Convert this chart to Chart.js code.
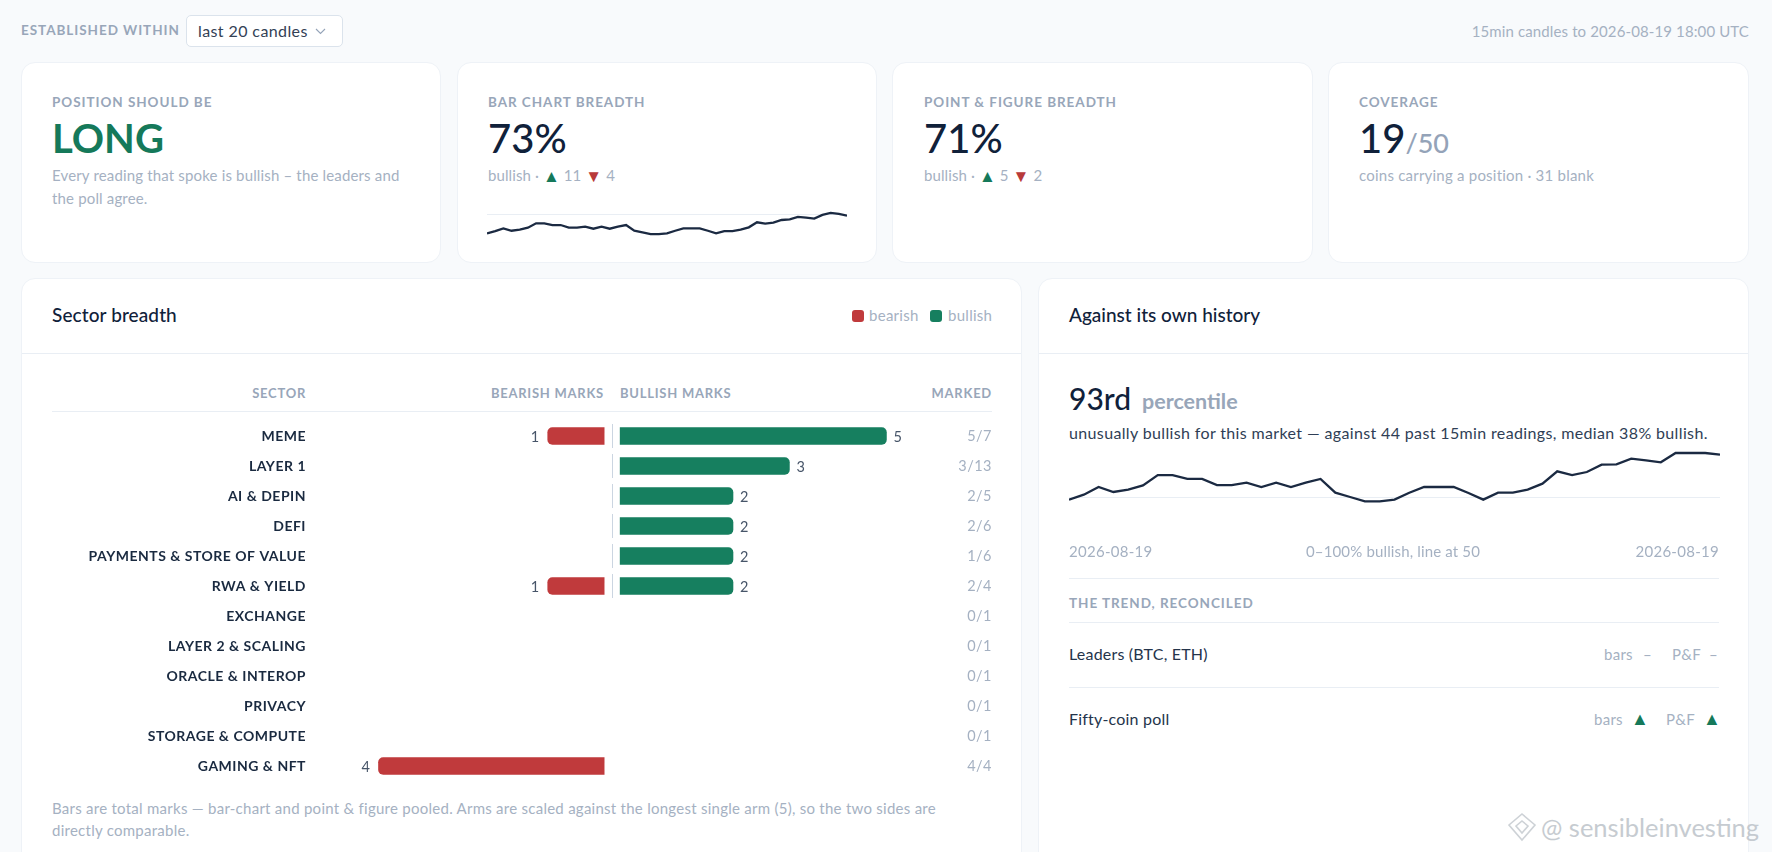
<!DOCTYPE html>
<html lang="en">
<head>
<meta charset="utf-8">
<title>Breadth</title>
<script src="https://cdn.jsdelivr.net/npm/chart.js@4/dist/chart.umd.min.js"></script>
<style>
  html, body { margin: 0; height: 100%; background: #f8fafc; overflow: hidden; }
  body { position: relative; width: 1772px; height: 852px; font-family: Lato, sans-serif; color: #10213a; }
  .card { position: absolute; background: #fff; border: 1px solid #eef2f7; border-radius: 14px; box-sizing: border-box; }
  .t { position: absolute; white-space: nowrap; transform: translateY(-50%); line-height: 1.2; }
  .r { transform: translate(-100%, -50%); }
  .c { transform: translate(-50%, -50%); }
  .label { font-size: 13.5px; font-weight: 700; letter-spacing: 0.95px; color: #98a6b9; }
  .th { font-size: 13px; font-weight: 700; letter-spacing: 0.75px; color: #98a6b9; }
  .big { font-size: 40px; font-weight: 500; }
  .sub { font-size: 15px; color: #a5b1c2; letter-spacing: 0.28px; }
  .title { font-size: 19px; font-weight: 500; letter-spacing: 0.1px; color: #10213a; }
  .row { font-size: 16px; color: #24344b; letter-spacing: 0.2px; }
  .up { color: #15795a; }
  .down { color: #b83a3a; }
  .tri { font-size: 17px; line-height: 1; vertical-align: -1px; }
  .rule { position: absolute; height: 1px; background: #e9eef4; }
  .swatch { position: absolute; width: 12px; height: 12px; border-radius: 3px; }
  canvas { position: absolute; display: block; }
</style>
</head>
<body>
  <div class="t label" style="left:21px;top:30px">ESTABLISHED WITHIN</div>
  <div style="position:absolute;left:186px;top:15px;width:157px;height:32px;background:#fff;border:1px solid #dbe3ec;border-radius:5px;box-sizing:border-box"></div>
  <div class="t" style="left:198px;top:31px;font-size:16px;color:#334155;letter-spacing:.4px">last 20 candles</div>
  <svg style="position:absolute;left:315px;top:28px" width="11" height="7"><path d="M1 1 L5.5 5.5 L10 1" fill="none" stroke="#94a3b8" stroke-width="1.1"/></svg>
  <div class="t r sub" style="left:1749px;top:31px;letter-spacing:.12px">15min candles to 2026-08-19 18:00 UTC</div>

  <div class="card" style="left:21px;top:62px;width:420px;height:201px"></div>
  <div class="card" style="left:457px;top:62px;width:420px;height:201px"></div>
  <div class="card" style="left:892px;top:62px;width:421px;height:201px"></div>
  <div class="card" style="left:1328px;top:62px;width:421px;height:201px"></div>

  <div class="t label" style="left:52px;top:102px">POSITION SHOULD BE</div>
  <div class="t big up" style="left:52px;top:138px;font-weight:700">LONG</div>
  <div class="t sub" style="left:52px;top:175px;letter-spacing:.16px">Every reading that spoke is bullish – the leaders and</div>
  <div class="t sub" style="left:52px;top:198px;letter-spacing:.16px">the poll agree.</div>

  <div class="t label" style="left:488px;top:102px">BAR CHART BREADTH</div>
  <div class="t big" style="left:488px;top:138px">73%</div>
  <div class="t sub" style="left:488px;top:175px;letter-spacing:.1px">bullish · <span class="up tri">▲</span> 11 <span class="down tri">▼</span> 4</div>

  <div class="t label" style="left:924px;top:102px">POINT &amp; FIGURE BREADTH</div>
  <div class="t big" style="left:924px;top:138px">71%</div>
  <div class="t sub" style="left:924px;top:175px;letter-spacing:.1px">bullish · <span class="up tri">▲</span> 5 <span class="down tri">▼</span> 2</div>

  <div class="t label" style="left:1359px;top:102px">COVERAGE</div>
  <div class="t big" style="left:1359px;top:138px">19<span style="font-size:27px;color:#94a3b8">/50</span></div>
  <div class="t sub" style="left:1359px;top:175px;letter-spacing:.22px">coins carrying a position · 31 blank</div>

  <canvas id="barSpark" width="360" height="43" style="left:487px;top:204px"></canvas>

  <div class="card" style="left:21px;top:278px;width:1001px;height:640px"></div>
  <div class="rule" style="left:22px;top:353px;width:999px"></div>
  <div class="t title" style="left:52px;top:315px">Sector breadth</div>
  <div class="swatch" style="left:852px;top:310px;background:#c03a3c"></div>
  <div class="t sub" style="left:869px;top:315px">bearish</div>
  <div class="swatch" style="left:930px;top:310px;background:#167f5f"></div>
  <div class="t sub" style="left:948px;top:315px">bullish</div>

  <div class="t r th" style="left:306px;top:394px">SECTOR</div>
  <div class="t r th" style="left:604px;top:394px">BEARISH MARKS</div>
  <div class="t th" style="left:620px;top:394px">BULLISH MARKS</div>
  <div class="t r th" style="left:992px;top:394px">MARKED</div>
  <div class="rule" style="left:52px;top:411px;width:940px"></div>
  <canvas id="sectorChart" width="940" height="360" style="left:52px;top:421px"></canvas>
  <div class="t sub" style="left:52px;top:808px;letter-spacing:.26px">Bars are total marks — bar-chart and point &amp; figure pooled. Arms are scaled against the longest single arm (5), so the two sides are</div>
  <div class="t sub" style="left:52px;top:830px;letter-spacing:.26px">directly comparable.</div>

  <div class="card" style="left:1038px;top:278px;width:711px;height:640px"></div>
  <div class="rule" style="left:1039px;top:353px;width:709px"></div>
  <div class="t title" style="left:1069px;top:315px;letter-spacing:0">Against its own history</div>
  <div class="t" style="left:1069px;top:398px;font-size:30px;font-weight:500">93rd</div>
  <div class="t" style="left:1142px;top:402px;font-size:21.5px;font-weight:700;color:#98a6b9">percentile</div>
  <div class="t" style="left:1069px;top:433px;font-size:16px;color:#2f3e55;letter-spacing:.36px">unusually bullish for this market — against 44 past 15min readings, median 38% bullish.</div>
  <canvas id="historySpark" width="651" height="98" style="left:1069px;top:448px"></canvas>
  <div class="t sub" style="left:1069px;top:551px">2026-08-19</div>
  <div class="t c sub" style="left:1393px;top:551px;letter-spacing:.15px">0–100% bullish, line at 50</div>
  <div class="t r sub" style="left:1719px;top:551px">2026-08-19</div>
  <div class="rule" style="left:1069px;top:578px;width:650px"></div>
  <div class="t label" style="left:1069px;top:603px">THE TREND, RECONCILED</div>
  <div class="rule" style="left:1069px;top:622px;width:650px"></div>
  <div class="t row" style="left:1069px;top:654px">Leaders (BTC, ETH)</div>
  <div class="t sub" style="left:1604px;top:654px">bars</div>
  <div class="t sub" style="left:1643px;top:654px">–</div>
  <div class="t sub" style="left:1672px;top:654px">P&amp;F</div>
  <div class="t sub" style="left:1709px;top:654px">–</div>
  <div class="rule" style="left:1069px;top:687px;width:650px"></div>
  <div class="t row" style="left:1069px;top:719px">Fifty-coin poll</div>
  <div class="t sub" style="left:1594px;top:719px">bars</div>
  <div class="t up" style="left:1631px;top:719px;font-size:18px">▲</div>
  <div class="t sub" style="left:1666px;top:719px">P&amp;F</div>
  <div class="t up" style="left:1703px;top:719px;font-size:18px">▲</div>

  <svg style="position:absolute;left:1507px;top:812px;opacity:.7" width="30" height="30"><path d="M15 2 L28 13 L15 28 L2 13 Z M15 9 L21 14 L15 21 L9 14 Z" fill="none" stroke="#b9bfc6" stroke-width="1.6"/></svg>
  <div class="t" style="left:1541px;top:827px;font-size:25.5px;color:#b9bfc6;opacity:.8">@ sensibleinvesting</div>

<script>
// sector table
const sectors = ['MEME', 'LAYER 1', 'AI & DEPIN', 'DEFI', 'PAYMENTS & STORE OF VALUE', 'RWA & YIELD',
  'EXCHANGE', 'LAYER 2 & SCALING', 'ORACLE & INTEROP', 'PRIVACY', 'STORAGE & COMPUTE', 'GAMING & NFT'];
const bearishMarks = [1, 0, 0, 0, 0, 1, 0, 0, 0, 0, 0, 4];
const bullishMarks = [5, 3, 2, 2, 2, 2, 0, 0, 0, 0, 0, 0];
const markedLabels = ['5/7', '3/13', '2/5', '2/6', '1/6', '2/4', '0/1', '0/1', '0/1', '0/1', '0/1', '4/4'];

// bullish share per 15min reading
const barBreadth = [31.6, 37.1, 43.3, 37.8, 40.2, 44.9, 55, 55, 51.1, 51.1, 44.9, 44.9, 47.2, 42.5, 47.2, 42.5, 47.2, 51.1,
  37.8, 33.9, 30, 30, 31.6, 37.8, 43.3, 43.3, 43.3, 37.8, 31.6, 37.1, 37.1, 40.2, 45.7, 57.4, 54.3, 56.6,
  62.8, 64.4, 69.9, 68.3, 66, 74.6, 79.3, 76.9, 73];
const historyBreadth = [47.3, 52.4, 60.2, 55.1, 57.5, 61.9, 72.4, 72.4, 68.4, 68.4, 62.2, 62.2, 64.6, 60.2, 64.6, 60.2, 64.6, 68.4,
  54.4, 50, 45.6, 45.6, 47.3, 54.4, 60.2, 60.2, 60.2, 54.1, 47.3, 54.4, 54.4, 57.5, 63.6, 76.2, 72.4, 75.5,
  83, 83.3, 89.1, 87.4, 85.4, 94.9, 94.9, 94.9, 93.2];
const barRefLine = 75;
const historyRefLine = 50;

const red = '#c03a3c';
const green = '#167f5f';

// arms sit either side of a gap, the bullish track runs out just short of 5 marks
const armGap = 0.142;
const armReach = 4.72;
const bearishBars = bearishMarks.map(v => v ? [-(armGap + v), -armGap] : null);
const bullishBars = bullishMarks.map(v => v ? [armGap, armGap + Math.min(v, armReach)] : null);

// center ticks and the count at the end of each arm
const armDecor = {
  id: 'armDecor',
  beforeDraw(chart) {
    chart.ctx.letterSpacing = '0.5px';
  },
  afterDatasetsDraw(chart) {
    const { ctx, scales: { x, y } } = chart;
    ctx.save();
    ctx.font = '14.5px Lato, sans-serif';
    ctx.textBaseline = 'middle';
    sectors.forEach((_, i) => {
      const rowY = y.getPixelForValue(i);
      if (bullishMarks[i]) {
        ctx.fillStyle = '#cbd5e1';
        ctx.fillRect(Math.round(x.getPixelForValue(0)), rowY - 12, 1, 24);
        ctx.fillStyle = '#475569';
        ctx.textAlign = 'left';
        ctx.fillText(bullishMarks[i], x.getPixelForValue(armGap + Math.min(bullishMarks[i], armReach)) + 7, rowY + 1);
      }
      if (bearishMarks[i]) {
        ctx.fillStyle = '#475569';
        ctx.textAlign = 'right';
        ctx.fillText(bearishMarks[i], x.getPixelForValue(-(armGap + bearishMarks[i])) - 8, rowY + 1);
      }
    });
    ctx.restore();
  }
};

// the tick labels sit well inside the rows, no need for the axis to pad for them
function noPad(scale, width) {
  scale.width = width;
  scale.paddingTop = 0;
  scale.paddingBottom = 0;
}

new Chart(document.getElementById('sectorChart'), {
  type: 'bar',
  data: {
    labels: sectors,
    datasets: [
      { label: 'bearish', data: bearishBars, backgroundColor: red, borderRadius: { topLeft: 5, bottomLeft: 5 } },
      { label: 'bullish', data: bullishBars, backgroundColor: green, borderRadius: { topRight: 5, bottomRight: 5 } }
    ]
  },
  options: {
    indexAxis: 'y',
    responsive: false,
    animation: false,
    events: [],
    grouped: false,
    barThickness: 17,
    layout: { padding: 0 },
    plugins: { legend: { display: false }, tooltip: { enabled: false } },
    scales: {
      x: { display: false, min: -5.25, max: 5.67 },
      y: {
        position: 'left',
        grid: { display: false, drawTicks: false },
        border: { display: false },
        ticks: { color: '#1a2a40', padding: 10, autoSkip: false, font: { family: 'Lato, sans-serif', size: 14, weight: 700 } },
        afterFit(scale) { noPad(scale, 264); }
      },
      y2: {
        type: 'category',
        position: 'right',
        labels: markedLabels,
        offset: true,
        grid: { display: false, drawTicks: false },
        border: { display: false },
        ticks: { color: '#a5b1c2', crossAlign: 'far', autoSkip: false, font: { family: 'Lato, sans-serif', size: 14.5 } },
        afterFit(scale) { noPad(scale, 60); }
      }
    }
  },
  plugins: [armDecor]
});

function sparkline(id, values, refLine) {
  new Chart(document.getElementById(id), {
    type: 'line',
    data: {
      labels: values.map((_, i) => i),
      datasets: [{ data: values, borderColor: '#1b2a42', borderWidth: 2.3, pointRadius: 0, tension: 0, clip: false }]
    },
    options: {
      responsive: false,
      animation: false,
      events: [],
      layout: { padding: 0 },
      plugins: { legend: { display: false }, tooltip: { enabled: false } },
      scales: {
        x: { display: false },
        y: {
          min: 0,
          max: 100,
          afterBuildTicks(scale) { scale.ticks = [{ value: refLine }]; },
          grid: { color: '#e9eef4', drawTicks: false },
          border: { display: false },
          ticks: { display: false },
          afterFit(scale) { scale.width = 0; }
        }
      }
    }
  });
}

sparkline('barSpark', barBreadth, barRefLine);
sparkline('historySpark', historyBreadth, historyRefLine);
</script>
</body>
</html>
